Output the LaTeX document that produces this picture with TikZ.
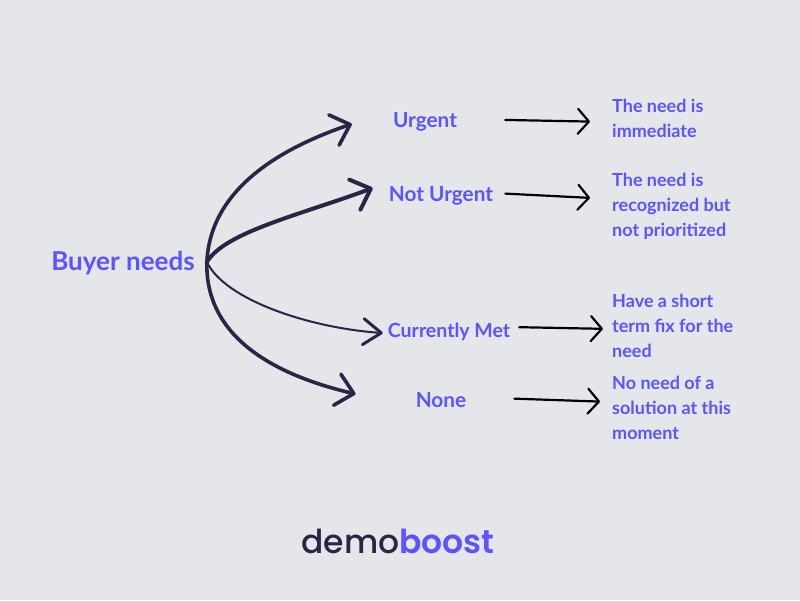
\documentclass[tikz,border=0pt]{standalone}
\usepackage{fontspec}
\setmainfont{Lato}
\newfontfamily\logofont[UprightFont={* Medium},BoldFont={* SemiBold}]{Poppins}
\usetikzlibrary{arrows.meta}
\definecolor{pagegrey}{HTML}{E4E6EA}
\definecolor{boostblue}{HTML}{5B54FF}
\definecolor{inkdark}{HTML}{2C2444}
\tikzset{
  label/.style={text=boostblue, inner sep=0pt, font=\bfseries\fontsize{20.8}{25}\selectfont},
  need/.style={text=boostblue, inner sep=0pt, anchor=west, align=left, font=\bfseries\fontsize{18}{25}\selectfont},
  branch/.style={draw=inkdark, line cap=round, -{Straight Barb[length=17pt,width=32pt,round]}},
  flow/.style={draw=black, line width=2.2pt, line cap=round, -{Straight Barb[length=11pt,width=25pt,round]}}
}

\begin{document}
\begin{tikzpicture}[x=1pt, y=-1pt]

\fill[pagegrey] (0,0) rectangle (800,600);
\useasboundingbox (0,0) rectangle (800,600);

\node[label, font=\bfseries\fontsize{26}{30}\selectfont] (buyer) at (123,263) {Buyer needs};

\node[label] (urgent) at (425,122) {Urgent};
\node[label] (noturgent) at (441,196) {Not Urgent};
\node[label, font=\bfseries\fontsize{19.5}{25}\selectfont] (met) at (449,332) {Currently Met};
\node[label] (none) at (441,400) {None};

\node[need] (needa) at (612,118) {The need is\\immediate};
\node[need] (needb) at (612,206) {The need is\\recognized but\\not prioritized};
\node[need] (needc) at (612,326) {Have a short\\term fix for the\\need};
\node[need] (needd) at (612,408) {No need of a\\solution at this\\moment};

\node[inner sep=0pt, font=\logofont\fontsize{33}{40}\selectfont] (logo) at (398,541) {\textcolor{inkdark}{demo}\textcolor{boostblue}{\bfseries boost}};

\coordinate (hub) at ([xshift=12pt,yshift=1pt]buyer.east);
\coordinate (urgenttip) at ([xshift=-41pt,yshift=-2pt]urgent.west);
\coordinate (noturgenttip) at ([xshift=-16pt,yshift=8pt]noturgent.west);
\coordinate (mettip) at ([xshift=-5pt,yshift=-1pt]met.west);
\coordinate (nonetip) at ([xshift=-60pt,yshift=6pt]none.west);

\draw[branch, line width=3.6pt] (hub) .. controls (210,192) and (275,150) .. (urgenttip);
\draw[branch, line width=4pt] (hub) .. controls (225,232) and (300,215) .. (noturgenttip);
\draw[draw=inkdark, line cap=round, line width=2pt, -{Straight Barb[length=18pt,width=26pt,round,line width=3pt]}] (hub) .. controls (225,300) and (310,328) .. (mettip);
\draw[branch, line width=3.6pt] (hub) .. controls (205,330) and (262,372) .. (nonetip);

\draw[flow, shorten <=48pt, shorten >=22pt] ([yshift=3pt]urgent.east) -- ([yshift=-4pt]needa.west);
\draw[flow, shorten <=12pt, shorten >=22pt] ([yshift=3pt]noturgent.east) -- ([yshift=7pt]needb.west);
\draw[flow, shorten <=9pt, shorten >=9pt] ([yshift=5pt]met.east) -- ([yshift=-3pt]needc.west);
\draw[flow, shorten <=48pt, shorten >=12pt] ([yshift=3pt]none.east) -- ([yshift=6pt]needd.west);

\end{tikzpicture}
\end{document}
